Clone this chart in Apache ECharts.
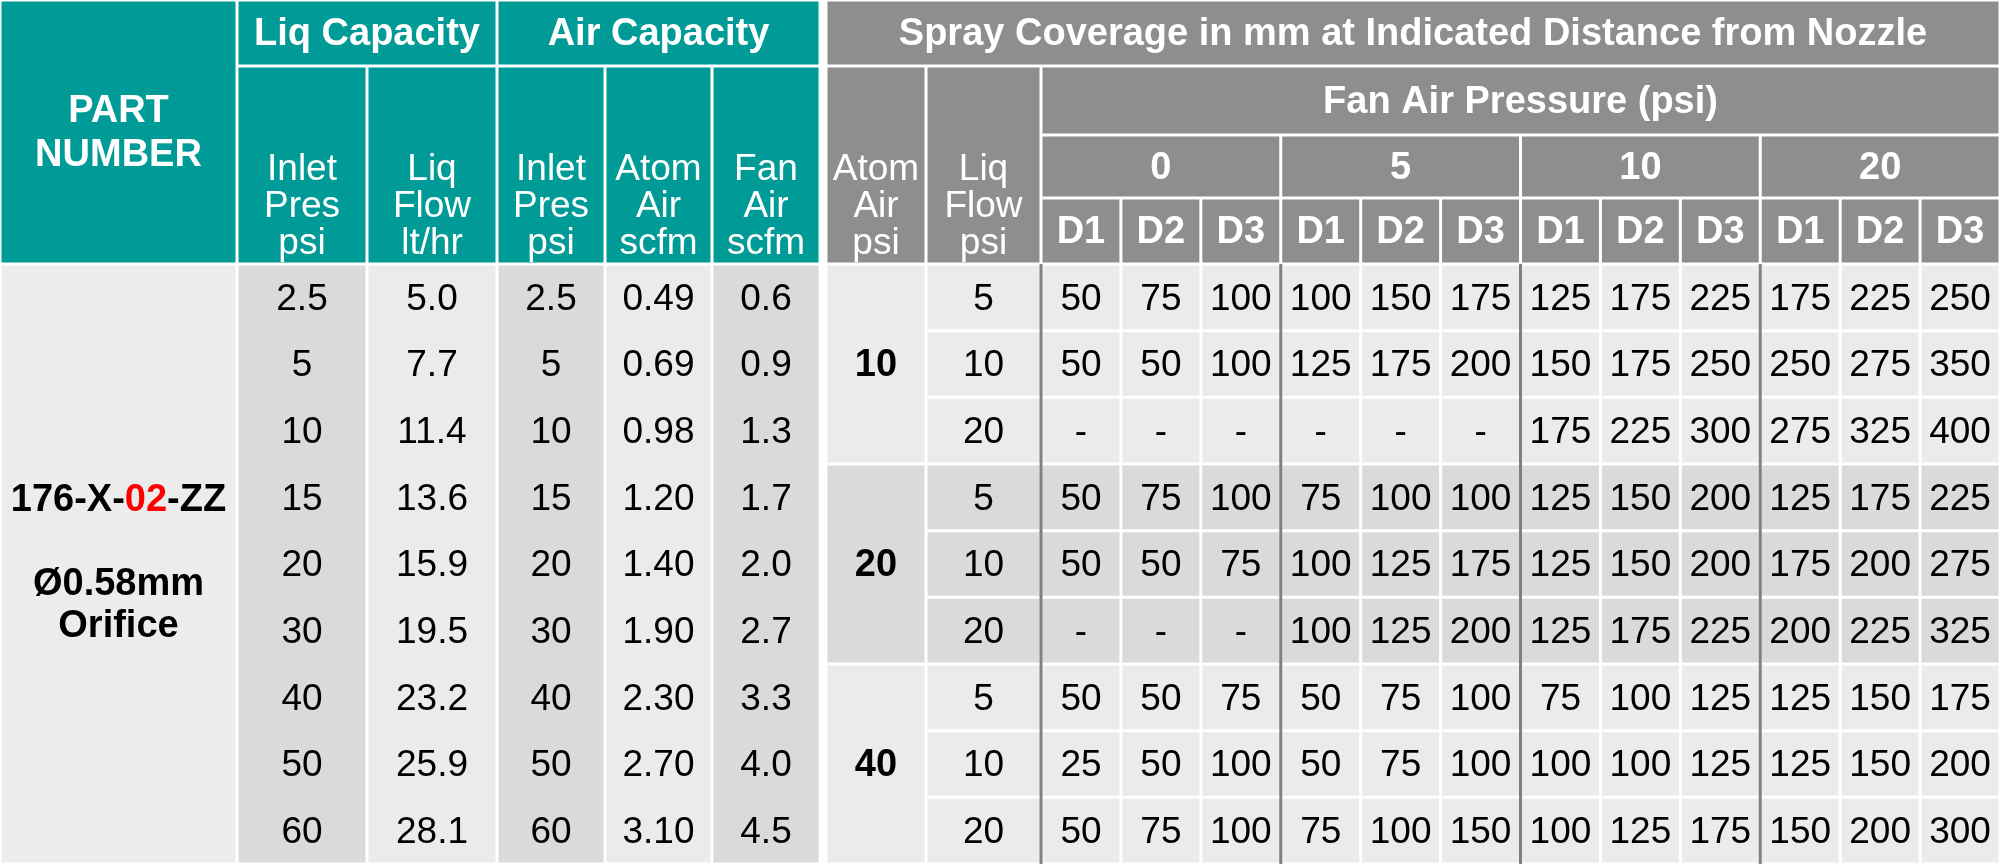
<!DOCTYPE html>
<html>
<head>
<meta charset="utf-8">
<script src="https://cdn.jsdelivr.net/npm/echarts@6/dist/echarts.min.js"></script>
<style>html,body{margin:0;padding:0;background:#fff}#chart{width:2000px;height:864px}</style>
</head>
<body>
<div id="chart"></div>
<script>
// table values
var inletPres = ['2.5', '5', '10', '15', '20', '30', '40', '50', '60'];
var liqFlow = ['5.0', '7.7', '11.4', '13.6', '15.9', '19.5', '23.2', '25.9', '28.1'];
var airInlet = ['2.5', '5', '10', '15', '20', '30', '40', '50', '60'];
var atomAir = ['0.49', '0.69', '0.98', '1.20', '1.40', '1.90', '2.30', '2.70', '3.10'];
var fanAir = ['0.6', '0.9', '1.3', '1.7', '2.0', '2.7', '3.3', '4.0', '4.5'];
var atomGroups = ['10', '20', '40'];
var liqFlowPsi = ['5', '10', '20'];
var fanPressures = ['0', '5', '10', '20'];
var distances = ['D1', 'D2', 'D3'];
var coverage = [
    ['50', '75', '100', '100', '150', '175', '125', '175', '225', '175', '225', '250'],
    ['50', '50', '100', '125', '175', '200', '150', '175', '250', '250', '275', '350'],
    ['-', '-', '-', '-', '-', '-', '175', '225', '300', '275', '325', '400'],
    ['50', '75', '100', '75', '100', '100', '125', '150', '200', '125', '175', '225'],
    ['50', '50', '75', '100', '125', '175', '125', '150', '200', '175', '200', '275'],
    ['-', '-', '-', '100', '125', '200', '125', '175', '225', '200', '225', '325'],
    ['50', '50', '75', '50', '75', '100', '75', '100', '125', '125', '150', '175'],
    ['25', '50', '100', '50', '75', '100', '100', '100', '125', '125', '150', '200'],
    ['50', '75', '100', '75', '100', '150', '100', '125', '175', '150', '200', '300']
];

var TEAL = '#009B96', GREY = '#8E8E8E', LIGHT = '#EBEBEB', DARK = '#DADADA', PART = '#ECECEC';
var FONT = 'Liberation Sans', FS = 37, FSB = 38;
var leftX = [0, 237, 367, 497, 605, 712, 820];
var atomX = [826, 926, 1041];
var dW = (2000 - 1041) / 12;
var hdrY = [0, 66, 135, 198, 264];
var rowH = (864 - 264) / 9;
function rowY(i) { return 264 + i * rowH; }

var cells = [];
function cell(x0, x1, y0, y1, fill, text, opt) {
    opt = opt || {};
    cells.push({x0: x0, x1: x1, y0: y0, y1: y1, fill: fill, text: text,
        bold: !!opt.bold, color: opt.color || '#000', bottom: !!opt.bottom,
        inset: opt.inset === undefined ? 1.5 : opt.inset, rich: opt.rich});
}

// header, left part
cell(0, leftX[1], 0, hdrY[4], TEAL, 'PART\nNUMBER', {bold: true, color: '#fff'});
cell(leftX[1], leftX[3], 0, hdrY[1], TEAL, 'Liq Capacity', {bold: true, color: '#fff'});
cell(leftX[3], leftX[6], 0, hdrY[1], TEAL, 'Air Capacity', {bold: true, color: '#fff'});
var subHdr = ['Inlet\nPres\npsi', 'Liq\nFlow\nlt/hr', 'Inlet\nPres\npsi', 'Atom\nAir\nscfm', 'Fan\nAir\nscfm'];
subHdr.forEach(function (t, i) {
    cell(leftX[i + 1], leftX[i + 2], hdrY[1], hdrY[4], TEAL, t, {color: '#fff', bottom: true});
});
// header, right part
cell(atomX[0], 2000, 0, hdrY[1], GREY, 'Spray Coverage in mm at Indicated Distance from Nozzle', {bold: true, color: '#fff'});
cell(atomX[0], atomX[1], hdrY[1], hdrY[4], GREY, 'Atom\nAir\npsi', {color: '#fff', bottom: true});
cell(atomX[1], atomX[2], hdrY[1], hdrY[4], GREY, 'Liq\nFlow\npsi', {color: '#fff', bottom: true});
cell(atomX[2], 2000, hdrY[1], hdrY[2], GREY, 'Fan Air Pressure (psi)', {bold: true, color: '#fff'});
fanPressures.forEach(function (p, g) {
    cell(atomX[2] + g * 3 * dW, atomX[2] + (g + 1) * 3 * dW, hdrY[2], hdrY[3], GREY, p, {bold: true, color: '#fff'});
    distances.forEach(function (d, k) {
        var c = g * 3 + k;
        cell(atomX[2] + c * dW, atomX[2] + (c + 1) * dW, hdrY[3], hdrY[4], GREY, d, {bold: true, color: '#fff'});
    });
});

// body, left columns
cell(0, leftX[1], rowY(0), 864, PART, '', {
    rich: '{b|176-X-}{r|02}{b|-ZZ}\n{b| }\n{b|Ø0.58mm}\n{b|Orifice}'
});
var leftCols = [inletPres, liqFlow, airInlet, atomAir, fanAir];
leftCols.forEach(function (col, c) {
    cell(leftX[c + 1], leftX[c + 2], rowY(0), 864, c % 2 === 0 ? DARK : LIGHT, '');
    col.forEach(function (v, r) {
        cell(leftX[c + 1], leftX[c + 2], rowY(r), rowY(r + 1), null, v);
    });
});

// body, right columns
atomGroups.forEach(function (a, g) {
    var fill = g === 1 ? DARK : LIGHT;
    cell(atomX[0], atomX[1], rowY(g * 3), rowY(g * 3 + 3), fill, a, {bold: true});
    liqFlowPsi.forEach(function (f, k) {
        var r = g * 3 + k;
        cell(atomX[1], atomX[2], rowY(r), rowY(r + 1), fill, f);
        coverage[r].forEach(function (v, c) {
            cell(atomX[2] + c * dW, atomX[2] + (c + 1) * dW, rowY(r), rowY(r + 1), fill, v);
        });
    });
});
// dark separators between fan pressure groups
fanPressures.forEach(function (p, g) {
    var x = atomX[2] + g * 3 * dW;
    cell(x - 1.5, x + 1.5, rowY(0), 864, '#808080', '', {inset: 0});
});

var myChart = echarts.init(document.getElementById('chart'));
var option = {
    animation: false,
    grid: {left: 0, right: 0, top: 0, bottom: 0},
    xAxis: {type: 'value', min: 0, max: 2000, show: false},
    yAxis: {type: 'value', min: 0, max: 864, inverse: true, show: false},
    series: [{
        type: 'custom',
        coordinateSystem: 'cartesian2d',
        data: cells.map(function (c, i) { return [c.x0, c.x1, c.y0, c.y1, i]; }),
        renderItem: function (params, api) {
            var c = cells[api.value(4)];
            var p0 = api.coord([api.value(0), api.value(2)]);
            var p1 = api.coord([api.value(1), api.value(3)]);
            var children = [];
            if (c.fill) {
                children.push({
                    type: 'rect',
                    shape: {x: p0[0] + c.inset, y: p0[1] + c.inset,
                        width: p1[0] - p0[0] - 2 * c.inset, height: p1[1] - p0[1] - 2 * c.inset},
                    style: {fill: c.fill}
                });
            }
            var cx = (p0[0] + p1[0]) / 2;
            if (c.rich) {
                children.push({
                    type: 'text',
                    style: {
                        x: cx, y: (p0[1] + p1[1]) / 2, text: c.rich, align: 'center', verticalAlign: 'middle',
                        rich: {
                            b: {fontFamily: FONT, fontSize: FSB, fontWeight: 'bold', fill: '#000', lineHeight: 42},
                            r: {fontFamily: FONT, fontSize: FSB, fontWeight: 'bold', fill: '#FF0000', lineHeight: 42}
                        }
                    }
                });
            } else if (c.text) {
                children.push({
                    type: 'text',
                    style: {
                        x: cx, y: c.bottom ? p1[1] - 2 : (p0[1] + p1[1]) / 2 + 2,
                        text: c.text, align: 'center', verticalAlign: c.bottom ? 'bottom' : 'middle',
                        fontFamily: FONT, fontSize: c.bold ? FSB : FS, lineHeight: c.bottom ? 37 : 44,
                        fontWeight: c.bold ? 'bold' : 'normal', fill: c.color
                    }
                });
            }
            return {type: 'group', children: children};
        }
    }]
};
myChart.setOption(option);
</script>
</body>
</html>
